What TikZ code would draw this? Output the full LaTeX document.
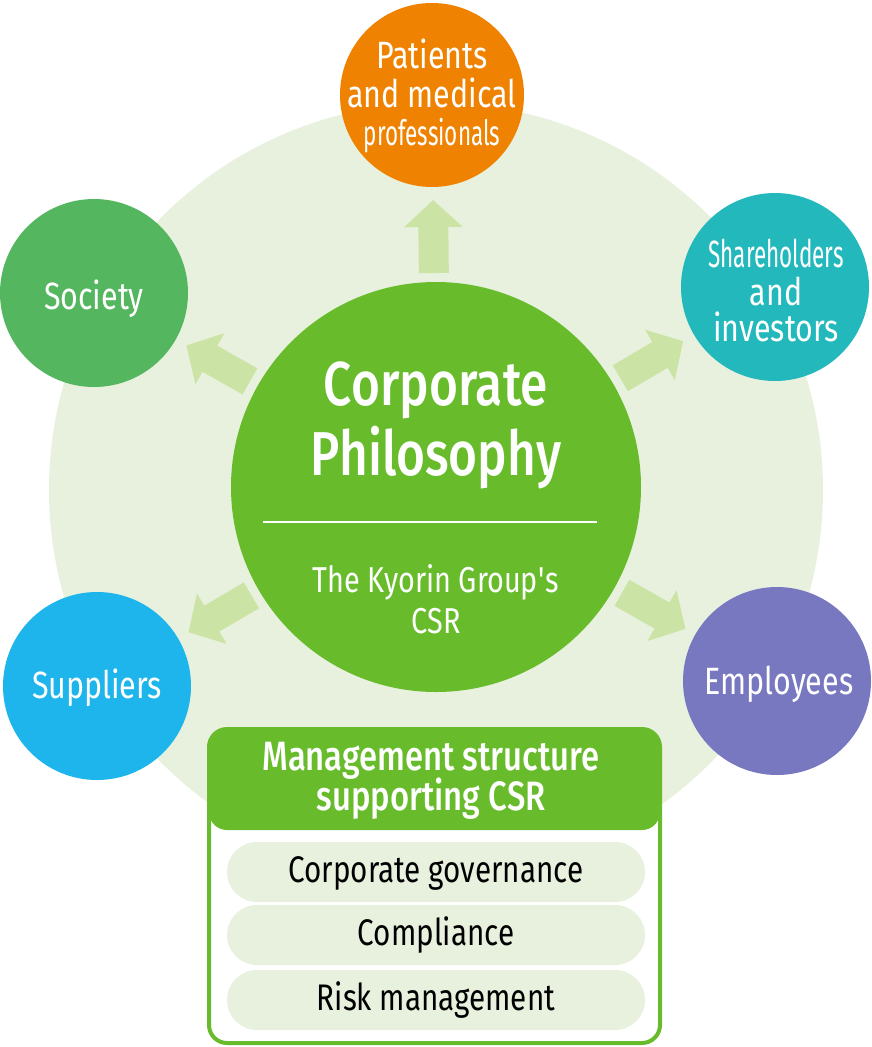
\documentclass[tikz,border=0pt]{standalone}
\usepackage{fontspec}
\setmainfont[FakeStretch=0.8,BoldFont={Fira Sans Medium}]{Fira Sans}
\usetikzlibrary{arrows.meta,calc}
\definecolor{bgc}{HTML}{E8F1DE}
\definecolor{arrowc}{HTML}{CCE3A6}
\definecolor{cgreen}{HTML}{68BC2C}
\definecolor{corange}{HTML}{EF8200}
\definecolor{csociety}{HTML}{55B660}
\definecolor{cteal}{HTML}{23B8BC}
\definecolor{csky}{HTML}{1EB5EC}
\definecolor{cpurple}{HTML}{7878C1}
\definecolor{pillc}{HTML}{E8F1DE}
\tikzset{
  disc/.style={circle, inner sep=0pt, minimum size=188pt},
  lbl/.style={anchor=base, inner sep=0pt, text=white, font=\fontsize{38}{38}\selectfont},
  bigarrow/.style={draw=arrowc, line width=30pt, -{Triangle[length=27pt,width=57pt]}},
  pill/.style={fill=pillc, rounded corners=30pt, minimum width=418pt, minimum height=60pt,
    inner sep=0pt, text height=20pt, text depth=0pt, font=\fontsize{37}{37}\selectfont},
}
\begin{document}
\begin{tikzpicture}[x=1pt,y=-1pt]
\useasboundingbox (0,0) rectangle (872,1047);
% background
\node[circle, fill=bgc, inner sep=0pt, minimum size=774pt] (bg) at (436,490) {};
% centre
\node[circle, fill=cgreen, inner sep=0pt, minimum size=410pt] (C) at (436,487) {};
\node[lbl, font=\bfseries\fontsize{62}{62}\selectfont] (ct1) at (436,405) {Corporate};
\node[lbl, font=\bfseries\fontsize{62}{62}\selectfont] (ct2) at (436,475) {Philosophy};
\coordinate (rl) at (263,522);
\coordinate (rr) at (597,522);
\draw[white, line width=2pt] (rl) -- (rr);
\node[lbl, font=\fontsize{36}{36}\selectfont] (cs1) at (436,592) {The Kyorin Group\textquotesingle s};
\node[lbl, font=\fontsize{36}{36}\selectfont] (cs2) at (436,633) {CSR};
% outer discs
\node[disc, fill=corange, minimum size=184pt] (pat) at (432,95) {};
\node[disc, fill=csociety] (soc) at (94,293) {};
\node[disc, fill=cteal] (sha) at (775,287) {};
\node[disc, fill=csky] (sup) at (97,686) {};
\node[disc, fill=cpurple] (emp) at (777,681) {};
% labels
\node[lbl] (pat1) at (432,68) {Patients};
\node[lbl] (pat2) at (432,107) {and medical};
\node[lbl] (pat3) at (432,145) {\scalebox{0.74}[0.92]{professionals}};
\node[lbl] (soc1) at (94,309) {Society};
\node[lbl] (sha1) at (776,267) {\scalebox{0.74}[1]{Shareholders}};
\node[lbl] (sha2) at (776,305) {and};
\node[lbl] (sha3) at (776,341) {investors};
\node[lbl] (sup1) at (97,698) {Suppliers};
\node[lbl] (emp1) at (779,694) {Employees};
% arrows
\foreach \t in {pat,soc,sha,sup,emp}{
  \draw[bigarrow] ($(C)!214pt!(\t)$) -- ($(C)!287pt!(\t)$);
}
% management box
\node[draw=cgreen, line width=4pt, fill=white, rounded corners=18pt,
      minimum width=451pt, minimum height=314pt, inner sep=0pt,
      path picture={\fill[cgreen] (path picture bounding box.north west) rectangle ($(path picture bounding box.north east)+(0,101)$);}]
      (box) at (434.5,886) {};
\node[lbl, font=\bfseries\fontsize{41}{41}\selectfont] (h1) at (431,770) {Management structure};
\node[lbl, font=\bfseries\fontsize{41}{41}\selectfont] (h2) at (431,810) {supporting CSR};
\node[pill] (p1) at (436,872) {Corporate governance};
\node[pill] (p2) at (436,935) {Compliance};
\node[pill] (p3) at (436,1000) {Risk management};
\end{tikzpicture}
\end{document}
